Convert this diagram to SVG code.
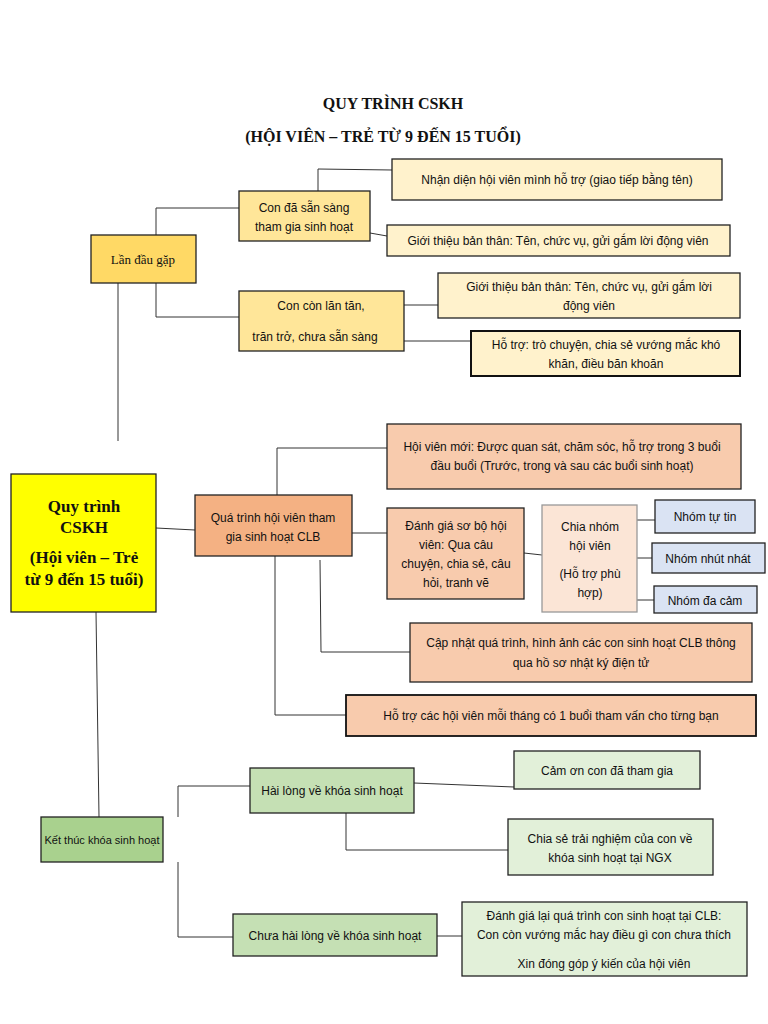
<svg xmlns="http://www.w3.org/2000/svg" width="768" height="1024" viewBox="0 0 768 1024">
<style>
.b{stroke:#222;stroke-width:1.3}
.t{font-family:"Liberation Sans",Arial,sans-serif;font-size:12px;fill:#111;text-anchor:middle}
.s{font-family:"Liberation Serif","Times New Roman",serif;fill:#111;text-anchor:middle;font-weight:bold}
.c{fill:none;stroke:#333;stroke-width:1}
.y1{fill:#FFD965}.y2{fill:#FFE699}.y3{fill:#FFF2CC}
.o1{fill:#F4B183}.o2{fill:#F8CBAD}.o3{fill:#FBE5D6}.bl{fill:#DAE3F3}
.g1{fill:#A9D18E}.g2{fill:#C5E0B4}.g3{fill:#E2F0D9}
</style>
<rect width="768" height="1024" fill="#fff"/>
<text class="s" x="393" y="109" font-size="16">QUY TRÌNH CSKH</text>
<text class="s" x="383" y="142" font-size="16">(HỘI VIÊN – TRẺ TỪ 9 ĐẾN 15 TUỔI)</text>
<g id="connectors">
<polyline class="c" points="156,235 156,208 239,208"/>
<polyline class="c" points="156,283 156,317 239,317"/>
<polyline class="c" points="318,191 318,169 392,170"/>
<polyline class="c" points="370,233 387,236"/>
<polyline class="c" points="404,305 438,305"/>
<polyline class="c" points="404,341 471,341"/>
<polyline class="c" points="118,283 118,441"/>
<polyline class="c" points="156,528 195,530"/>
<polyline class="c" points="277,495 277,448 387,448"/>
<polyline class="c" points="352,533 387,533"/>
<polyline class="c" points="524,553 542,555"/>
<polyline class="c" points="637,520 655,520"/>
<polyline class="c" points="637,558 652,558"/>
<polyline class="c" points="637,600 654,600"/>
<polyline class="c" points="320,560 321,652 410,652"/>
<polyline class="c" points="275,556 275,715 346,715"/>
<polyline class="c" points="96,612 99,817"/>
<polyline class="c" points="178,817 178,786 250,786"/>
<polyline class="c" points="178,862 178,937 233,937"/>
<polyline class="c" points="414,783 514,787"/>
<polyline class="c" points="346,813 346,850 508,850"/>
<polyline class="c" points="437,936 462,936"/>
</g>
<g id="n1"><rect class="b y1" x="91" y="235" width="105" height="48"/><text class="s" x="143" y="264" font-size="13" style="font-weight:normal">Lần đầu gặp</text></g>
<g id="n2"><rect class="b y2" x="239" y="191" width="131" height="50"/><text class="t" x="304" y="212">Con đã sẵn sàng</text><text class="t" x="304" y="231">tham gia sinh hoạt</text></g>
<g id="n3"><rect class="b y3" x="392" y="159" width="330" height="41"/><text class="t" x="557" y="184">Nhận diện hội viên mình hỗ trợ (giao tiếp bằng tên)</text></g>
<g id="n4"><rect class="b y3" x="387" y="225" width="343" height="31"/><text class="t" x="558" y="245">Giới thiệu bản thân: Tên, chức vụ, gửi gắm lời động viên</text></g>
<g id="n5"><rect class="b y2" x="239" y="291" width="165" height="60"/><text class="t" x="321" y="310">Con còn lăn tăn,</text><text class="t" x="315" y="341">trăn trở, chưa sẵn sàng</text></g>
<g id="n6"><rect class="b y3" x="438" y="273" width="302" height="45"/><text class="t" x="589" y="291">Giới thiệu bản thân: Tên, chức vụ, gửi gắm lời</text><text class="t" x="589" y="310">động viên</text></g>
<g id="n7"><rect class="y3" x="471" y="331" width="269" height="45" stroke="#111" stroke-width="2"/><text class="t" x="606" y="349">Hỗ trợ: trò chuyện, chia sẻ vướng mắc khó</text><text class="t" x="606" y="368">khăn, điều băn khoăn</text></g>
<g id="main"><rect class="b" x="11" y="474" width="145" height="138" fill="#FFFF00"/><text class="s" x="84" y="512" font-size="17">Quy trình</text><text class="s" x="84" y="533" font-size="17">CSKH</text><text class="s" x="84" y="563" font-size="17">(Hội viên – Trẻ</text><text class="s" x="84" y="585" font-size="17">từ 9 đến 15 tuổi)</text></g>
<g id="n8"><rect class="b o1" x="195" y="495" width="157" height="61"/><text class="t" x="273" y="522">Quá trình hội viên tham</text><text class="t" x="273" y="541">gia sinh hoạt CLB</text></g>
<g id="n9"><rect class="b o2" x="387" y="424" width="354" height="65"/><text class="t" x="562" y="451">Hội viên mới: Được quan sát, chăm sóc, hỗ trợ  trong 3 buổi</text><text class="t" x="562" y="470">đầu buổi (Trước, trong và sau các buổi sinh hoạt)</text></g>
<g id="n10"><rect class="b o2" x="387" y="508" width="137" height="91"/><text class="t" x="456" y="530">Đánh giá sơ bộ hội</text><text class="t" x="456" y="549">viên: Qua câu</text><text class="t" x="456" y="568">chuyện, chia sẻ, câu</text><text class="t" x="456" y="587">hỏi, tranh vẽ</text></g>
<g id="n11"><rect class="o3" x="542" y="505" width="95" height="107" stroke="#999" stroke-width="1.3"/><text class="t" x="590" y="531">Chia nhóm</text><text class="t" x="590" y="550">hội viên</text><text class="t" x="590" y="578">(Hỗ trợ phù</text><text class="t" x="590" y="597">hợp)</text></g>
<g id="n12"><rect class="b bl" x="655" y="500" width="100" height="33"/><text class="t" x="705" y="521">Nhóm tự tin</text></g>
<g id="n13"><rect class="b bl" x="652" y="543" width="113" height="30"/><text class="t" x="708" y="563">Nhóm nhút nhát</text></g>
<g id="n14"><rect class="b bl" x="654" y="586" width="103" height="27"/><text class="t" x="705" y="605">Nhóm đa cảm</text></g>
<g id="n15"><rect class="b o2" x="410" y="623" width="342" height="59"/><text class="t" x="581" y="647">Cập nhật quá trình, hình ảnh các con sinh hoạt CLB thông</text><text class="t" x="581" y="667">qua hồ sơ nhật ký điện tử</text></g>
<g id="n16"><rect class="o2" x="346" y="695" width="410" height="41" stroke="#111" stroke-width="1.8"/><text class="t" x="551" y="720">Hỗ trợ các hội viên mỗi tháng có 1 buổi tham vấn cho từng bạn</text></g>
<g id="n17"><rect class="b g1" x="41" y="817" width="122" height="45"/><text class="t" x="102" y="844" style="font-size:11px">Kết thúc khóa sinh hoạt</text></g>
<g id="n18"><rect class="b g2" x="250" y="768" width="164" height="45"/><text class="t" x="332" y="795">Hài lòng về khóa sinh hoạt</text></g>
<g id="n19"><rect class="b g3" x="514" y="751" width="186" height="38"/><text class="t" x="607" y="775">Cảm ơn con đã tham gia</text></g>
<g id="n20"><rect class="b g3" x="508" y="819" width="205" height="56"/><text class="t" x="610" y="843">Chia sẻ trải nghiệm của con về</text><text class="t" x="610" y="862">khóa sinh hoạt tại NGX</text></g>
<g id="n21"><rect class="b g2" x="233" y="914" width="204" height="42"/><text class="t" x="335" y="940">Chưa hài lòng về khóa sinh hoạt</text></g>
<g id="n22"><rect class="b g3" x="462" y="902" width="285" height="74"/><text class="t" x="604" y="920">Đánh giá lại quá trình con sinh hoạt tại CLB:</text><text class="t" x="604" y="939">Con còn vướng mắc hay điều gì con chưa thích</text><text class="t" x="604" y="968">Xin đóng góp ý kiến của hội viên</text></g>
</svg>
